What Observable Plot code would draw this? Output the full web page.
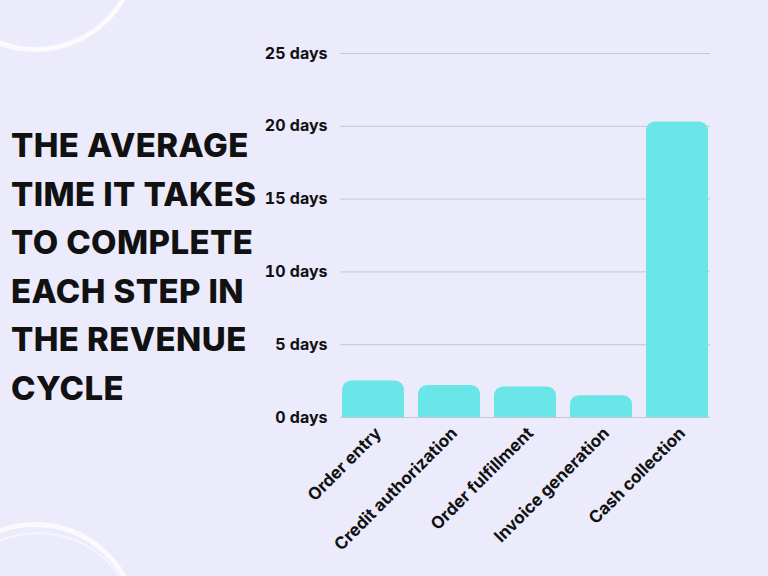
<!DOCTYPE html>
<html>
<head>
<meta charset="utf-8">
<script src="https://cdn.jsdelivr.net/npm/d3@7"></script>
<script src="https://cdn.jsdelivr.net/npm/@observablehq/plot@0.6"></script>
<style>
  html, body { margin: 0; padding: 0; background: #ebebfc; width: 768px; height: 576px; overflow: hidden; }
  #wrap { position: relative; width: 768px; height: 576px; }
  #title {
    position: absolute; left: 11px; top: 121px;
    font-family: Inter, "Noto Sans", sans-serif; font-weight: 800;
    font-size: 33px; line-height: 48.5px; color: #111; letter-spacing: 0.4px;
    white-space: nowrap;
  }
  .arc { position: absolute; border-radius: 50%; border-style: solid; border-color: rgba(255,255,255,0.7); }
  #chart { position: absolute; left: 0; top: 0; }
</style>
</head>
<body>
<div id="wrap">
  <div class="arc" style="left:-70px; top:-158px; width:200px; height:200px; border-width:5px;"></div>
  <div class="arc" style="left:-62px; top:-150px; width:196px; height:196px; border-width:2px; border-color: rgba(255,255,255,0.5);"></div>
  <div class="arc" style="left:-70px; top:522px; width:200px; height:200px; border-width:5px;"></div>
  <div class="arc" style="left:-62px; top:532px; width:196px; height:196px; border-width:2px; border-color: rgba(255,255,255,0.5);"></div>
  <div id="title">THE AVERAGE<br>TIME IT TAKES<br>TO COMPLETE<br>EACH STEP IN<br>THE REVENUE<br>CYCLE</div>
  <div id="chart"></div>
</div>
<script>
const steps = ["Order entry", "Credit authorization", "Order fulfillment", "Invoice generation", "Cash collection"];
const days = [2.5, 2.2, 2.1, 1.5, 20.3];
const yTicks = [0, 5, 10, 15, 20, 25];

const data = steps.map((s, i) => ({step: s, days: days[i]}));

const chart = Plot.plot({
  width: 768,
  height: 576,
  marginTop: 53,
  marginBottom: 159,
  marginLeft: 340,
  marginRight: 58,
  style: {background: "transparent", fontFamily: "Inter, 'Noto Sans', sans-serif", fontSize: "16px", fontWeight: "700", color: "#111"},
  x: {domain: steps, paddingInner: 0.18, paddingOuter: 0},
  y: {domain: [0, 25]},
  marks: [
    Plot.ruleY(yTicks, {stroke: "#c6c6d6", strokeWidth: 1}),
    Plot.barY(data, {x: "step", y: "days", fill: "#6be6e8", rx1y1: 9, rx2y1: 9}),
    Plot.axisY(yTicks, {tickSize: 0, tickPadding: 13, tickFormat: d => `${d} days`, label: null, fontSize: 16, fontWeight: 700}),
    Plot.axisX({tickSize: 0, tickPadding: 14, tickRotate: -45, label: null, fontSize: 17, fontWeight: 700, dx: 5, dy: -1})
  ]
});
document.getElementById("chart").appendChild(chart);
</script>
</body>
</html>
